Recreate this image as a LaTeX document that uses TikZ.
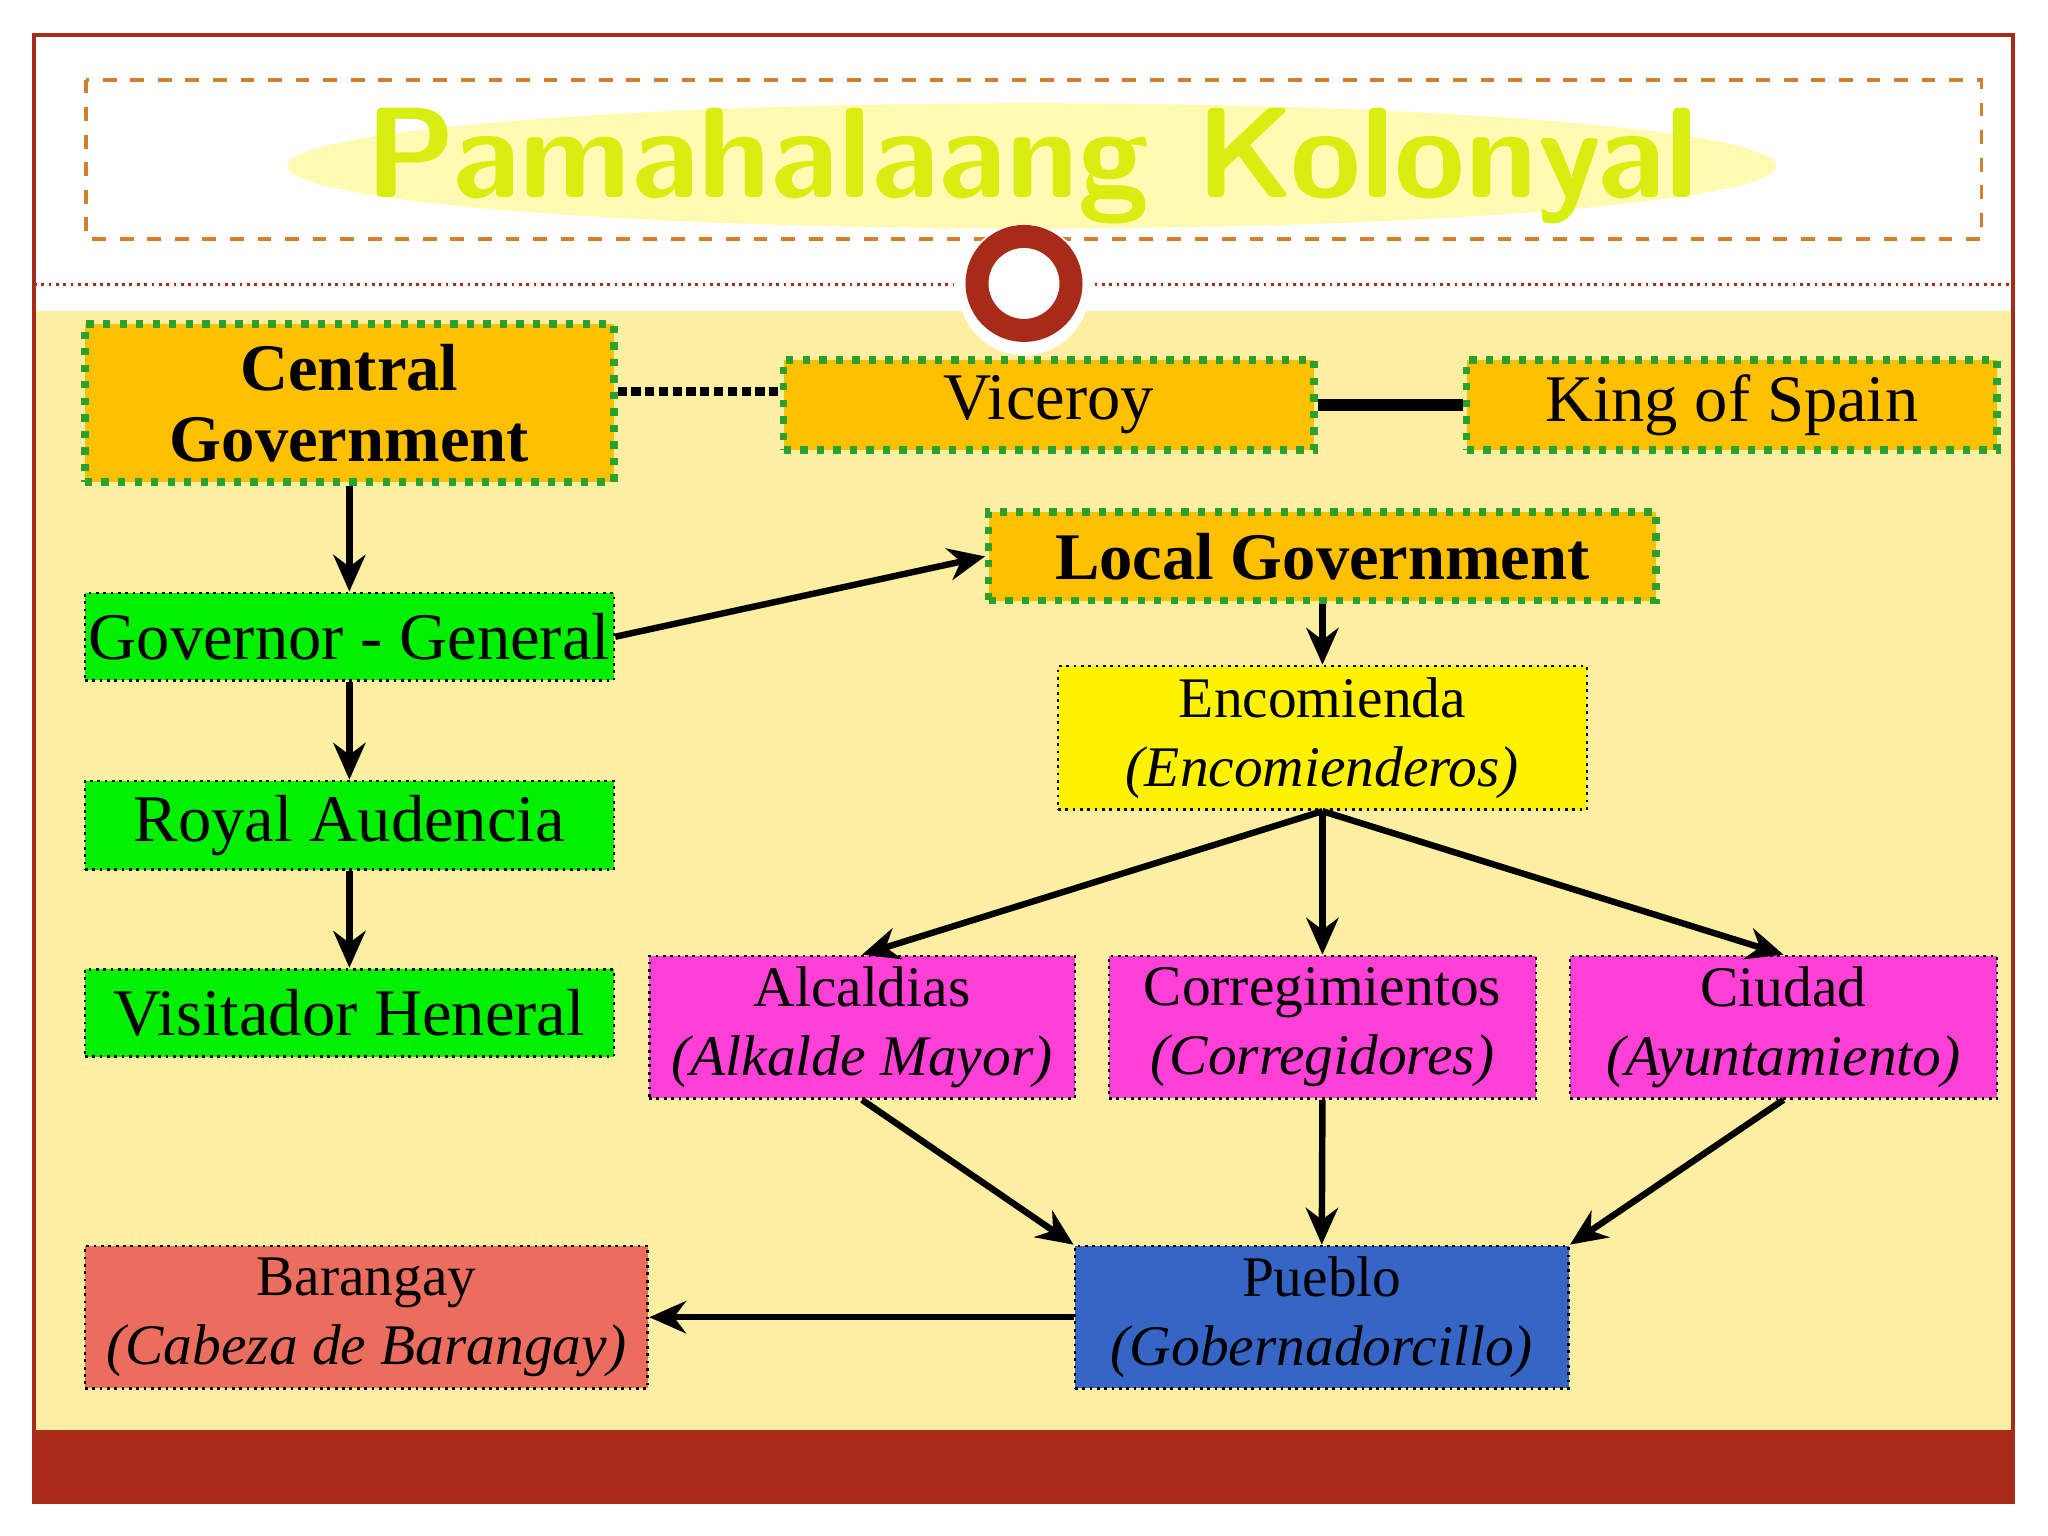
\documentclass[tikz,border=0pt]{standalone}
\usepackage{fontspec}
\setmainfont{Liberation Serif}
\usetikzlibrary{arrows.meta}
\definecolor{bgy}{HTML}{FCEFA2}
\definecolor{band}{HTML}{A82A18}
\definecolor{org}{HTML}{FFC000}
\definecolor{grn}{HTML}{00F000}
\definecolor{mag}{HTML}{FF3FD6}
\definecolor{sal}{HTML}{EB6D5E}
\definecolor{blu}{HTML}{3566C6}
\definecolor{gb}{HTML}{2CA02C}
\definecolor{ttl}{HTML}{D8EE10}
\tikzset{
 box/.style={draw=black,densely dotted,line width=0.6pt,align=center,font=\fontsize{12.5}{15}\selectfont,inner sep=0pt},
 gbox/.style={draw=gb,dotted,line width=1.6pt,fill=org,align=center,inner sep=0pt},
 arr/.style={-{Stealth[length=8pt,width=7pt]},line width=1.4pt},
}
\begin{document}
\begin{tikzpicture}[x=0.01cm,y=-0.01cm]
\useasboundingbox (0,0) rectangle (1568,1176);
\fill[white] (0,0) rectangle (1568,1176);
\fill[bgy] (26,238) rectangle (1541,1095);
\fill[band] (26,1095) rectangle (1541,1150);
\draw[band,line width=0.8pt] (26,27) rectangle (1541,1150);
\draw[brown!70!orange,dashed,line width=0.8pt] (66,61) rectangle (1517,183);
\draw[band,densely dotted,line width=0.6pt] (26,218) -- (730,218) (838,218) -- (1541,218);
\fill[yellow!60!white,opacity=0.5] (790,127) ellipse (570 and 48);
\fill[white] (784,222) circle (50);
\draw[band,line width=5pt,fill=white] (784,217) circle (36);
\node[text=ttl,font=\sffamily\bfseries\fontsize{28}{32}\selectfont] (title) at (790,127) {Pamahalaang Kolonyal};
% nodes
\node[gbox,minimum width=405*0.01cm,minimum height=121*0.01cm,font=\bfseries\fontsize{14.5}{15.5}\selectfont] (cg) at (267.5,308.5) {Central\\Government};
\node[gbox,minimum width=406*0.01cm,minimum height=69*0.01cm,font=\fontsize{14.5}{16}\selectfont] (vic) at (803,310) {Viceroy};
\node[gbox,minimum width=406*0.01cm,minimum height=69*0.01cm,font=\fontsize{14.5}{16}\selectfont] (king) at (1326,310) {King of Spain};
\node[gbox,minimum width=511*0.01cm,minimum height=68*0.01cm,font=\bfseries\fontsize{14.5}{16}\selectfont] (lg) at (1012.5,426) {Local Government};
\node[box,fill=grn,minimum width=405*0.01cm,minimum height=67*0.01cm,font=\fontsize{14.5}{16}\selectfont] (gg) at (267.5,487.5) {Governor - General};
\node[box,fill=grn,minimum width=405*0.01cm,minimum height=68*0.01cm,font=\fontsize{14.5}{16}\selectfont] (ra) at (267.5,632) {Royal Audencia};
\node[box,fill=grn,minimum width=405*0.01cm,minimum height=67*0.01cm,font=\fontsize{14.5}{16}\selectfont] (vh) at (267.5,775.5) {Visitador Heneral};
\node[box,fill=yellow,minimum width=405*0.01cm,minimum height=110*0.01cm] (enc) at (1012.5,565) {Encomienda\\\textit{(Encomienderos)}};
\node[box,fill=mag,minimum width=326*0.01cm,minimum height=109*0.01cm] (alc) at (660,786.5) {Alcaldias\\\textit{(Alkalde Mayor)}};
\node[box,fill=mag,minimum width=327*0.01cm,minimum height=109*0.01cm] (cor) at (1012.5,786.5) {Corregimientos\\\textit{(Corregidores)}};
\node[box,fill=mag,minimum width=327*0.01cm,minimum height=109*0.01cm] (ciu) at (1365.5,786.5) {Ciudad\\\textit{(Ayuntamiento)}};
\node[box,fill=sal,minimum width=431*0.01cm,minimum height=109*0.01cm] (bar) at (280.5,1008.5) {Barangay\\\textit{(Cabeza de Barangay)}};
\node[box,fill=blu,minimum width=378*0.01cm,minimum height=109*0.01cm] (pue) at (1012,1008.5) {Pueblo\\\textit{(Gobernadorcillo)}};
% connectors
\draw[densely dotted,line width=2pt] (cg.east|-0,300) -- (vic.west|-0,300);
\draw[line width=2.5pt] (vic.east) -- (king.west);
\draw[arr] (cg) -- (gg);
\draw[arr] (gg) -- (ra);
\draw[arr] (ra) -- (vh);
\draw[arr] (gg.east) -- (lg.west);
\draw[arr] (lg) -- (enc);
\draw[arr] (enc.south) -- (alc.north);
\draw[arr] (enc.south) -- (cor.north);
\draw[arr] (enc.south) -- (ciu.north);
\draw[arr] (alc.south) -- (pue.north west);
\draw[arr] (cor.south) -- (pue.north);
\draw[arr] (ciu.south) -- (pue.north east);
\draw[arr] (pue.west) -- (bar.east);
\end{tikzpicture}
\end{document}
